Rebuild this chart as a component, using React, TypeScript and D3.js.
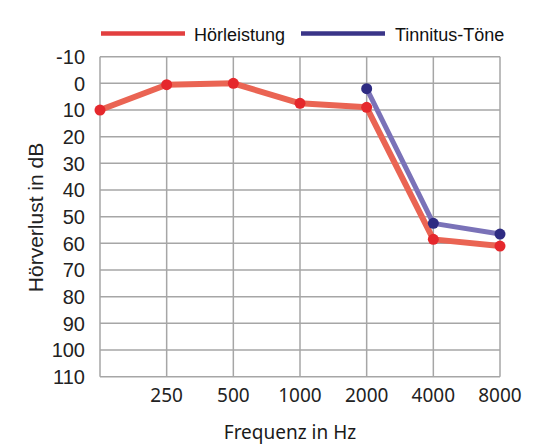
import React from "react";
import * as d3 from "d3";

const freqLabels = ["125", "250", "500", "1000", "2000", "4000", "8000"];
const shownLabels = ["", "250", "500", "1000", "2000", "4000", "8000"];
const yTicks = [-10, 0, 10, 20, 30, 40, 50, 60, 70, 80, 90, 100, 110];
const hoerleistung = [10, 0.5, 0, 7.5, 9, 58.5, 61];
const tinnitusFreqs = ["2000", "4000", "8000"];
const tinnitus = [2, 52.5, 56.5];

export default function App() {
  const W = 553, H = 446;
  const x = d3.scalePoint<string>().domain(freqLabels).range([100, 500]);
  const y = d3.scaleLinear().domain([-10, 110]).range([56.7, 376.7]);
  const redPts = freqLabels.map((f, i) => [x(f)!, y(hoerleistung[i])] as [number, number]);
  const bluePts = tinnitusFreqs.map((f, i) => [x(f)!, y(tinnitus[i])] as [number, number]);
  const line = d3.line();
  const grid = "#a6a6a6";
  return (
    <svg width={W} height={H} style={{ position: "absolute", left: 0, top: 0, background: "#fff" }}>
      {yTicks.map((t) => (
        <line key={"h" + t} x1={100} x2={500} y1={y(t)} y2={y(t)} stroke={grid} strokeWidth={1.5} />
      ))}
      {freqLabels.map((f) => (
        <line key={"v" + f} x1={x(f)} x2={x(f)} y1={y(-10)} y2={y(110)} stroke={grid} strokeWidth={1.5} />
      ))}
      {yTicks.map((t) => (
        <text key={"yl" + t} x={85} y={y(t)} dy="0.36em" textAnchor="end" fontFamily="Liberation Sans, Arial, sans-serif" fontSize={20} fill="#222">
          {t}
        </text>
      ))}
      {freqLabels.map((f, i) => (
        <text key={"xl" + f} x={x(f)} y={402} textAnchor="middle" fontFamily="Noto Sans, sans-serif" fontSize={19} fill="#222">
          {shownLabels[i]}
        </text>
      ))}
      <text x={290} y={439} textAnchor="middle" fontFamily="Noto Sans, sans-serif" fontSize={19} fill="#1a1a1a">
        Frequenz in Hz
      </text>
      <text transform="translate(43,217.5) rotate(-90)" textAnchor="middle" fontFamily="Liberation Sans, Arial, sans-serif" fontSize={21} fill="#222">
        Hörverlust in dB
      </text>
      <path d={line(bluePts)!} fill="none" stroke="#7a72b8" strokeWidth={5} strokeLinejoin="round" />
      <path d={line(redPts)!} fill="none" stroke="#ea6453" strokeWidth={6} strokeLinejoin="round" />
      {redPts.map((p, i) => (
        <circle key={"rc" + i} cx={p[0]} cy={p[1]} r={5.5} fill="#e5282c" />
      ))}
      {bluePts.map((p, i) => (
        <circle key={"bc" + i} cx={p[0]} cy={p[1]} r={5.5} fill="#2e2b82" />
      ))}
      <line x1={101} x2={185} y1={33.5} y2={33.5} stroke="#e23f3f" strokeWidth={4.5} />
      <text x={194} y={40.5} fontFamily="Liberation Sans, Arial, sans-serif" fontSize={18} fill="#111">
        Hörleistung
      </text>
      <line x1={301} x2={385} y1={33.5} y2={33.5} stroke="#3a3588" strokeWidth={4.5} />
      <text x={395} y={40.5} fontFamily="Liberation Sans, Arial, sans-serif" fontSize={18} fill="#111">
        Tinnitus-Töne
      </text>
    </svg>
  );
}
